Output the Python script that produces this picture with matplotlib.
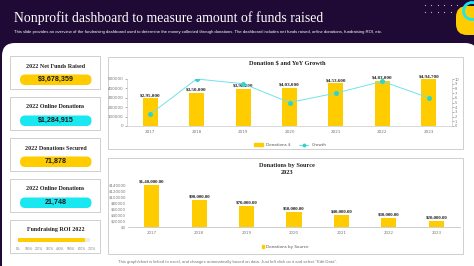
import matplotlib
matplotlib.use("Agg")
import matplotlib.pyplot as plt
import matplotlib.patches as patches
from matplotlib.lines import Line2D
import numpy as np

# ---- data ----
years = ["2017", "2018", "2019", "2020", "2021", "2022", "2023"]
donations = [295000, 350000, 398200, 403000, 453600, 483000, 494700]
donation_labels = ["$2,95,000", "$3,50,000", "$3,98,200", "$4,03,000",
                   "$4,53,600", "$4,83,000", "$4,94,700"]
growth = [2.5, 10, 9, 5, 7, 9.5, 6]
by_source = [140000, 90000, 70000, 50000, 40000, 30000, 20000]
source_labels = ["$1,40,000.00", "$90,000.00", "$70,000.00", "$50,000.00",
                 "$40,000.00", "$30,000.00", "$20,000.00"]
card_titles = ["2022 Net Funds Raised", "2022 Online Donations",
               "2022 Donations Secured", "2022 Online Donations"]
card_values = ["$3,678,359", "$1,284,915", "71,878", "21,748"]
roi_value = 650
roi_ticks = [0, 100, 200, 300, 400, 500, 600, 700]

W, H = 474, 266
BG = "#1e0a35"
YELLOW = "#ffcc00"
CYAN = "#19e8f0"
LINE_CYAN = "#6fe3ea"
SERIF = ["Liberation Serif", "DejaVu Serif"]
SANS = ["Liberation Sans", "DejaVu Sans"]

fig = plt.figure(figsize=(W / 100, H / 100), dpi=100)
fig.patch.set_facecolor(BG)

# background axes in pixel coordinates
bg = fig.add_axes([0, 0, 1, 1])
bg.set_xlim(0, W)
bg.set_ylim(H, 0)
bg.axis("off")


def px_axes(x0, y0, x1, y1):
    return fig.add_axes([x0 / W, 1 - y1 / H, (x1 - x0) / W, (y1 - y0) / H])


# decorations top right
for row in range(2):
    for i in range(6):
        bg.plot(425 + i * 6.4, 5 + row * 7, "o", color="#b9b2c6", ms=0.9, mew=0)
bg.add_patch(patches.FancyBboxPatch((456, 6), 40, 29, boxstyle="round,pad=0,rounding_size=11",
                                    fc=YELLOW, ec="none", zorder=2))
bg.add_patch(patches.Circle((472, 11), 8.5, fill=False, ec=CYAN, lw=2.0, zorder=3))

# title
bg.text(14, 18, "Nonprofit dashboard to measure amount of funds raised",
        color="white", fontsize=9.9, family=SERIF, va="center", ha="left")
bg.text(14, 32, "This slide provides an overview of the fundraising dashboard used to determine the money "
        "collected through donations. The dashboard includes net funds raised, online donations, fundraising ROI, etc.",
        color="white", fontsize=3.1, family=SANS, va="center", ha="left")

# white panel
bg.add_patch(patches.FancyBboxPatch((2, 43), 476, 240, boxstyle="round,pad=0,rounding_size=13",
                                    fc="white", ec="none", zorder=1))

# left cards
card_y = [56, 97, 138, 179, 220]
for k, y in enumerate(card_y):
    bg.add_patch(patches.Rectangle((10.5, y), 90, 33, fc="white", ec="#c8c8c8", lw=0.6, zorder=2))
    if k < 4:
        color = YELLOW if k % 2 == 0 else CYAN
        bg.text(55.5, y + 10, card_titles[k], fontsize=4.3, family=SERIF, fontweight="bold",
                ha="center", va="center", color="#222222", zorder=3)
        bg.add_patch(patches.FancyBboxPatch((20, y + 18.5), 71.5, 10.5,
                                            boxstyle="round,pad=0,rounding_size=5.2",
                                            fc=color, ec="none", zorder=3))
        bg.text(55.7, y + 23.8, card_values[k], fontsize=5.1, family=SANS, fontweight="bold",
                ha="center", va="center", color="#1a1a1a", zorder=4)
    else:
        bg.text(55.5, y + 10, "Fundraising ROI 2022", fontsize=4.3, family=SERIF, fontweight="bold",
                ha="center", va="center", color="#222222", zorder=3)

# ROI progress bar
roi_ax = px_axes(18, 237.5, 90, 242)
roi_ax.barh([0], [max(roi_ticks)], color="#ececec", height=1)
roi_ax.barh([0], [roi_value], color=YELLOW, height=1)
roi_ax.set_xlim(0, max(roi_ticks))
roi_ax.set_ylim(-0.5, 0.5)
roi_ax.axis("off")
for i, t in enumerate(roi_ticks):
    bg.text(18 + i * 10.6, 248.5, f"{t}%", fontsize=2.3, family=SANS,
            ha="center", va="center", color="#777777", zorder=3)

# chart panels
bg.add_patch(patches.Rectangle((108.5, 57), 355, 92, fc="white", ec="#c8c8c8", lw=0.6, zorder=2))
bg.add_patch(patches.Rectangle((108.5, 158), 355, 96, fc="white", ec="#c8c8c8", lw=0.6, zorder=2))

x = np.arange(len(years))

# ---- top chart ----
ax1 = px_axes(127, 79, 452, 126)
ax1.bar(x, donations, width=0.32, color=YELLOW, zorder=2)
for xi, v, lab in zip(x, donations, donation_labels):
    ax1.text(xi, v + 12000, lab, ha="center", va="bottom", fontsize=3.7, family=SERIF,
             fontweight="bold", color="#222222", zorder=4)
ax1.set_xlim(-0.5, len(years) - 0.5)
ax1.set_ylim(0, 500000)
ax1.set_yticks(np.arange(0, 500001, 100000))
ax1.set_xticks(x)
ax1.set_xticklabels(years)
ax1.tick_params(axis="both", labelsize=3, colors="#777777", length=1.2, width=0.4, pad=1.5)
ax1.tick_params(axis="x", length=0, pad=3)
for s in ["top", "right"]:
    ax1.spines[s].set_visible(False)
ax1.spines["left"].set_color("#bbbbbb")
ax1.spines["bottom"].set_color("#bbbbbb")
ax1.spines["left"].set_linewidth(0.4)
ax1.spines["bottom"].set_linewidth(0.4)
ax1.patch.set_alpha(0)

ax1b = ax1.twinx()
ax1b.plot(x, growth, color=LINE_CYAN, lw=0.7, marker="o", ms=2.6,
          markerfacecolor="#2fd6c8", markeredgecolor="#2fd6c8", zorder=3)
ax1b.set_ylim(0, 10)
ax1b.set_yticks(range(0, 11))
ax1b.tick_params(axis="y", labelsize=2.6, colors="#777777", length=1.2, width=0.4, pad=1)
for s in ["top", "left", "bottom"]:
    ax1b.spines[s].set_visible(False)
ax1b.spines["right"].set_color("#bbbbbb")
ax1b.spines["right"].set_linewidth(0.4)

bg.text(287, 64, "Donation $ and YoY Growth", fontsize=4.6, family=SERIF, fontweight="bold",
        ha="center", va="center", color="#222222", zorder=3)
handles1 = [patches.Patch(color=YELLOW, label="Donations $"),
            Line2D([0], [0], color=LINE_CYAN, lw=0.7, marker="o", ms=1.8,
                   markerfacecolor="#2fd6c8", mec="#2fd6c8", label="Growth")]
fig.legend(handles=handles1, loc="center", bbox_to_anchor=(290 / W, 1 - 145 / H), ncol=2,
           frameon=False, fontsize=3, handlelength=2.2, handleheight=0.4, columnspacing=2,
           labelcolor="#555555")

# ---- bottom chart ----
ax2 = px_axes(128, 185, 460, 227)
ax2.bar(x, by_source, width=0.32, color=YELLOW, zorder=2)
for xi, v, lab in zip(x, by_source, source_labels):
    ax2.text(xi, v + 6000, lab, ha="center", va="bottom", fontsize=3.5, family=SERIF,
             fontweight="bold", color="#222222", zorder=4)
ax2.set_xlim(-0.5, len(years) - 0.5)
ax2.set_ylim(0, 140000)
ax2.set_yticks(np.arange(0, 140001, 20000))
ax2.set_yticklabels([f"${v}" for v in range(0, 140001, 20000)])
ax2.set_xticks(x)
ax2.set_xticklabels(years)
ax2.tick_params(axis="both", labelsize=2.9, colors="#777777", length=0, pad=1.5)
ax2.tick_params(axis="x", pad=3)
for s in ["top", "right", "left"]:
    ax2.spines[s].set_visible(False)
ax2.spines["bottom"].set_color("#bbbbbb")
ax2.spines["bottom"].set_linewidth(0.5)
ax2.patch.set_alpha(0)

bg.text(287, 165.5, "Donations by Source", fontsize=4.6, family=SERIF, fontweight="bold",
        ha="center", va="center", color="#222222", zorder=3)
bg.text(287, 173, "2023", fontsize=4.6, family=SERIF, fontweight="bold",
        ha="center", va="center", color="#222222", zorder=3)
handles2 = [patches.Patch(color=YELLOW, label="Donations by Source")]
fig.legend(handles=handles2, loc="center", bbox_to_anchor=(285 / W, 1 - 247 / H),
           frameon=False, fontsize=3, handlelength=0.6, handleheight=0.4, handletextpad=0.3,
           labelcolor="#555555")

bg.text(118, 261.5, 'This graph/chart is linked to excel, and changes automatically based on data. '
        'Just left click on it and select "Edit Data".', fontsize=3.05, family=SANS,
        ha="left", va="center", color="#777777", zorder=3)

fig.savefig("out.png", dpi=100, facecolor=BG)
